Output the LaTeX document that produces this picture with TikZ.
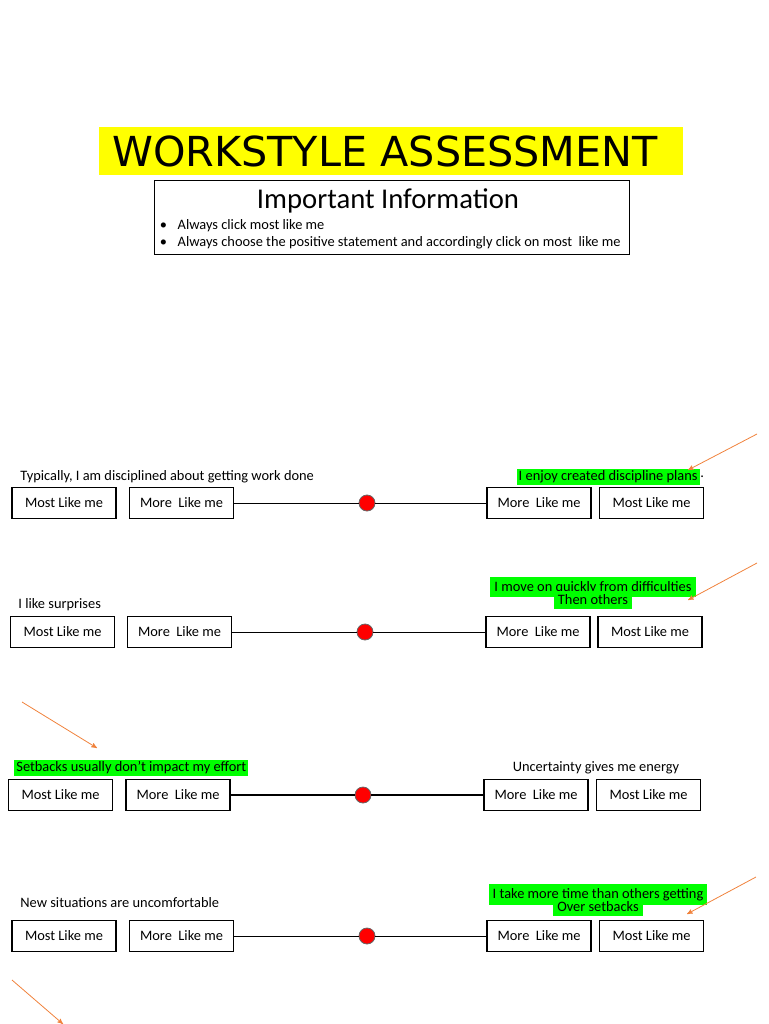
\documentclass[tikz,border=0pt]{standalone}
\usepackage{fontspec}
\setmainfont{Carlito}
\newfontfamily\titlefont{DejaVu Sans}
\usetikzlibrary{positioning, arrows}

\definecolor{hlgreen}{RGB}{0,255,0}
\definecolor{hlyellow}{RGB}{255,255,0}
\definecolor{arroworange}{RGB}{240,130,60}

\newlength{\pxu}\setlength{\pxu}{0.75pt}
\tikzset{
    choice/.style={draw, thick, minimum width=104\pxu, minimum height=31\pxu, inner sep=0pt, font=\fontsize{10.8}{13}\selectfont},
    stmt/.style={inner sep=1.5pt, font=\fontsize{10.8}{13}\selectfont},
    hl/.style={stmt, fill=hlgreen, align=center},
    dot/.style={circle, draw=black!60, fill=red, minimum width=16\pxu, minimum height=14\pxu, inner sep=0pt},
    pointer/.style={->, >=stealth', draw=arroworange, semithick}
}

\begin{document}
\begin{tikzpicture}[x=0.75pt, y=-0.75pt, semithick]
    \useasboundingbox (0,0) rectangle (768,1024);

    % Header
    \node[fill=hlyellow, minimum width=584\pxu, minimum height=48\pxu, inner sep=0pt] (title) at (391,151) {};
    \node[font=\titlefont\fontsize{31}{36}\selectfont] (titletext) at (385,151) {WORKSTYLE ASSESSMENT};
    \node[draw, thin, minimum width=475\pxu, minimum height=74\pxu] (info) at (391.5,217) {};
    \node[font=\fontsize{21.5}{24}\selectfont] (infohead) at (388,201) {Important Information};
    \node[anchor=west, font=\fontsize{10.8}{13}\selectfont] (bulletA) at (155,226) {\textbullet\hspace{8pt}Always click most like me};
    \node[anchor=west, font=\fontsize{10.8}{13}\selectfont] (bulletB) at (155,243) {\textbullet\hspace{8pt}Always choose the positive statement and accordingly click on most\ \ like me};

    % Row 1
    \node[choice] (mostA) at (64,503) {Most Like me};
    \node[choice] (moreA) at (181.5,503) {More\ \ Like me};
    \node[choice] (moreAr) at (539,503) {More\ \ Like me};
    \node[choice] (mostAr) at (651.5,503) {Most Like me};
    \node[dot] (dotA) at (367,503) {};
    \draw (moreA) -- (dotA) -- (moreAr);
    \node[stmt, anchor=west] (leftA) at (18,477) {Typically, I am disciplined about getting work done};
    \node[hl, anchor=east] (rightA) at (700,477) {I enjoy created discipline plans};
    \node[stmt, anchor=west, inner sep=0pt] (dotmark) at (rightA.east) {.};

    % Row 2
    \node[choice] (mostB) at (62.5,632) {Most Like me};
    \node[choice] (moreB) at (179.5,632) {More\ \ Like me};
    \node[choice] (moreBr) at (538,632) {More\ \ Like me};
    \node[choice] (mostBr) at (650,632) {Most Like me};
    \node[dot] (dotB) at (365,632) {};
    \draw (moreB) -- (dotB) -- (moreBr);
    \node[stmt, anchor=west] (leftB) at (16,605) {I like surprises};
    \node[hl, inner sep=0pt, fill=none] (rightB) at (593,593) {\colorbox{hlgreen}{I move on quickly from difficulties}\\[-6pt]\colorbox{hlgreen}{Then others}};

    % Row 3
    \node[choice] (mostC) at (60.5,795) {Most Like me};
    \node[choice] (moreC) at (178,795) {More\ \ Like me};
    \node[choice] (moreCr) at (536,795) {More\ \ Like me};
    \node[choice] (mostCr) at (648.5,795) {Most Like me};
    \node[dot] (dotC) at (363,795) {};
    \draw[very thick] (moreC) -- (dotC) -- (moreCr);
    \node[hl, anchor=west] (leftC) at (14,768) {Setbacks usually don't impact my effort};
    \node[stmt] (rightC) at (596,768) {Uncertainty gives me energy};

    % Row 4
    \node[choice] (mostD) at (64,936) {Most Like me};
    \node[choice] (moreD) at (181.5,936) {More\ \ Like me};
    \node[choice] (moreDr) at (539,936) {More\ \ Like me};
    \node[choice] (mostDr) at (651.5,936) {Most Like me};
    \node[dot] (dotD) at (367,936) {};
    \draw (moreD) -- (dotD) -- (moreDr);
    \node[stmt, anchor=west] (leftD) at (18,903) {New situations are uncomfortable};
    \node[hl, inner sep=0pt, fill=none] (rightD) at (598,900) {\colorbox{hlgreen}{I take more time than others getting}\\[-6pt]\colorbox{hlgreen}{Over setbacks}};

    % Orange pointers
    \coordinate (pA) at (757,434); \coordinate (tA) at (688,470);
    \coordinate (pB) at (757,563); \coordinate (tB) at (688,600);
    \coordinate (pC) at (22,702);  \coordinate (tC) at (97,748);
    \coordinate (pD) at (756,877); \coordinate (tD) at (687,914);
    \coordinate (pE) at (12,980);  \coordinate (tE) at (63,1024);
    \draw[pointer] (pA) -- (tA);
    \draw[pointer] (pB) -- (tB);
    \draw[pointer] (pC) -- (tC);
    \draw[pointer] (pD) -- (tD);
    \draw[pointer] (pE) -- (tE);
\end{tikzpicture}
\end{document}
